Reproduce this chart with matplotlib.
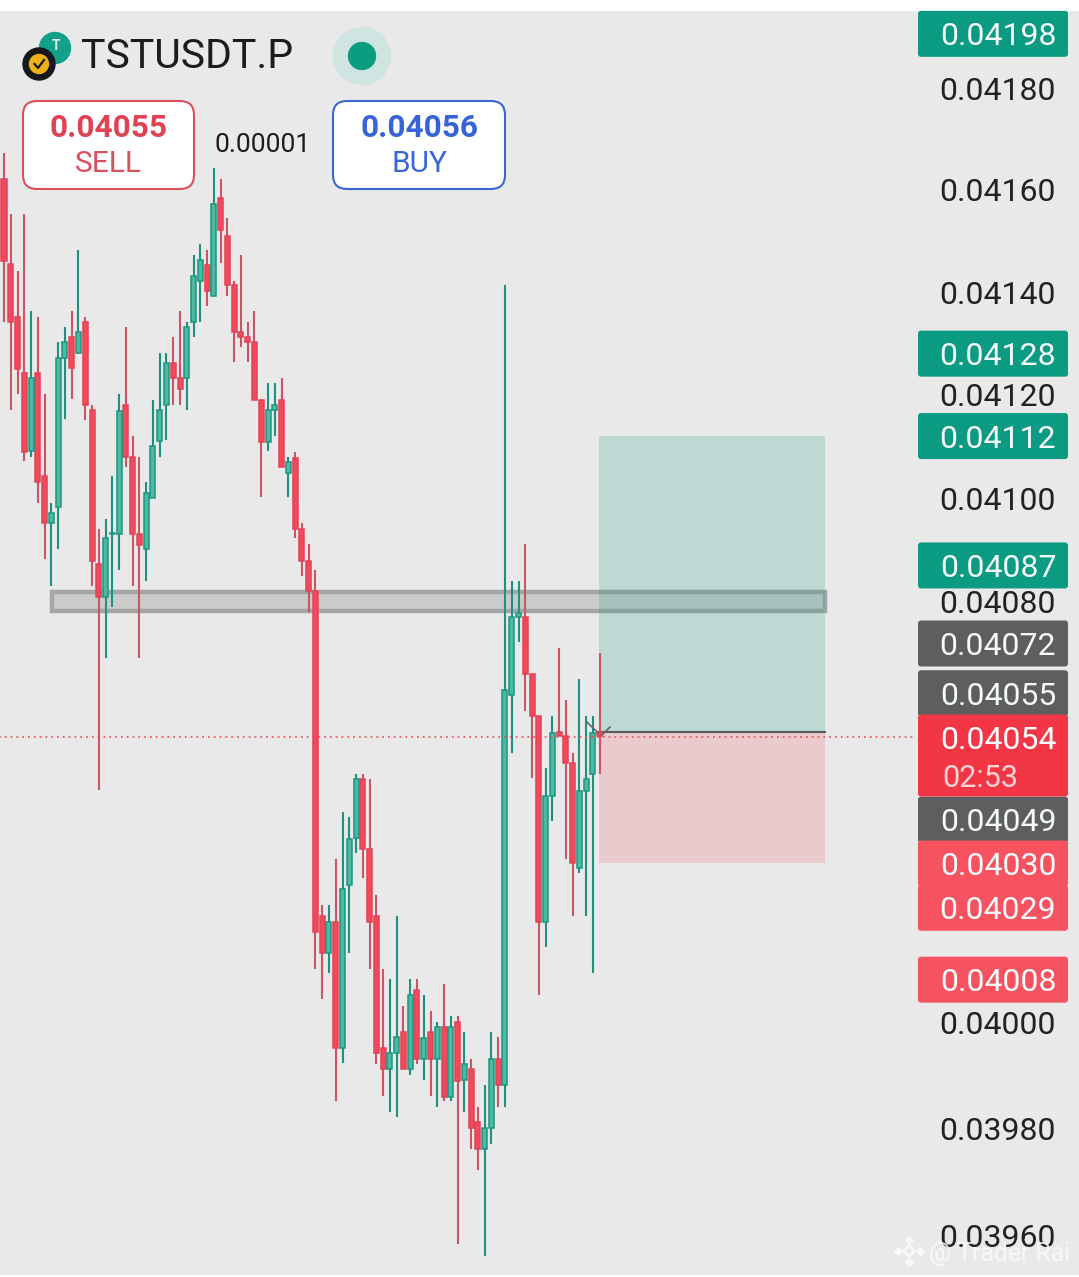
import matplotlib
matplotlib.use("Agg")
import numpy as np
import matplotlib.pyplot as plt
from matplotlib.patches import Rectangle, FancyBboxPatch, Circle
from matplotlib.ticker import NullFormatter, NullLocator

plt.rcParams["font.family"] = ["Roboto", "DejaVu Sans"]

# ---------------------------------------------------------------------------
# Data (prices in millionths of a USDT)
# ---------------------------------------------------------------------------

highs = [
    41673, 41553, 41442, 41553, 41364, 41352, 41201, 40991, 41303, 41332,
    41364, 41483, 41352, 41181, 40941, 40960, 41042, 41201, 41332, 41121,
    41080, 41032, 41190, 41281, 41281, 41313, 41364, 41342, 41473, 41493,
    41483, 41643, 41622, 41544, 41422, 41473, 41342, 41364, 41190, 41223,
    41223, 41232, 41080, 41090, 40951, 40912, 40862, 40221, 40221, 40309,
    40398, 40389, 40471, 40471, 40461, 40240, 40100, 40081, 40200, 40030,
    40081, 40081, 40051, 40021, 40000, 40072, 40011, 40011, 39981, 39931,
    39840, 39882, 39981, 39972, 41413, 40841, 40841, 40912, 40662, 40582,
    40481, 40582, 40712, 40611, 40511, 40651, 40582, 40582, 40701,
]
lows = [
    41342, 41171, 41201, 41071, 41080, 40991, 40883, 40831, 40902, 41154,
    41192, 41279, 41152, 40831, 40440, 40693, 40790, 40862, 41061, 40831,
    40693, 40841, 41001, 41080, 41113, 41181, 41181, 41171, 41313, 41342,
    41373, 41393, 41456, 41393, 41264, 41293, 41264, 41190, 41003, 41092,
    41121, 41061, 41003, 40922, 40850, 40781, 40100, 40043, 40092, 39852,
    39923, 40130, 40319, 40272, 40100, 39921, 39861, 39831, 39822, 39912,
    39900, 39921, 39891, 39861, 39840, 39852, 39852, 39583, 39831, 39761,
    39722, 39561, 39771, 39840, 39840, 40511, 40722, 40591, 40463, 40051,
    40141, 40381, 40542, 40309, 40200, 40281, 40200, 40092, 40471,
]
body_tops = [
    41622, 41454, 41352, 41242, 41232, 41242, 41042, 40972, 41272, 41303,
    41313, 41322, 41342, 41171, 40872, 40922, 40933, 41169, 41181, 41080,
    40931, 41009, 41101, 41171, 41262, 41262, 41232, 41332, 41432, 41463,
    41452, 41573, 41583, 41510, 41413, 41322, 41313, 41303, 41190, 41171,
    41181, 41190, 41069, 41078, 40941, 40879, 40821, 40200, 40189, 40189,
    40251, 40347, 40461, 40461, 40328, 40200, 39951, 39942, 39972, 39981,
    40051, 40060, 39970, 39981, 39991, 39991, 39991, 40000, 39921, 39912,
    39812, 39801, 39931, 39931, 40630, 40771, 40779, 40771, 40662, 40582,
    40429, 40549, 40551, 40542, 40492, 40438, 40461, 40549, 40551,
]
body_bottoms = [
    41461, 41342, 41250, 41090, 41092, 41032, 40951, 40951, 40982, 41272,
    41252, 41281, 41181, 40879, 40810, 40810, 40930, 40931, 41080, 40931,
    40910, 40901, 41001, 41111, 41181, 41232, 41211, 41232, 41342, 41422,
    41403, 41393, 41522, 41413, 41322, 41313, 41303, 41190, 41109, 41109,
    41171, 41061, 41049, 40941, 40879, 40821, 40170, 40130, 40130, 39951,
    39951, 40260, 40349, 40328, 40189, 39942, 39912, 39912, 39942, 39912,
    39912, 39931, 39931, 39931, 39931, 39859, 39859, 39889, 39891, 39801,
    39761, 39761, 39801, 39882, 39882, 40622, 40771, 40662, 40582, 40189,
    40189, 40429, 40542, 40492, 40300, 40291, 40438, 40471, 40542,
]
directions = (
    "rrrrgrrgggrgrrrgggrrrggggrrgggrg"
    "rrrrrrrggrgrrrrrgrgggrrrrggrgrgrgrgrgrrggrgggrrrggrrrgggr"
)

axis_prices = [0.04180, 0.04160, 0.04140, 0.04120, 0.04100, 0.04080, 0.04000, 0.03980, 0.03960]

# price tags on the axis: value, colour kind
tag_values = [0.04198, 0.04128, 0.04112, 0.04087, 0.04072, 0.04055, 0.04049, 0.04030, 0.04029, 0.04008]
tag_kinds = ["green", "green", "green", "green", "grey", "grey", "grey", "red", "red", "red"]
last_price = 0.04054
countdown = "02:53"

sell_price, buy_price, spread = "0.04055", "0.04056", "0.00001"
symbol = "TSTUSDT.P"

entry_price = 0.04055
target_price = 0.04112
stop_price = 0.04030
zone_top, zone_bottom = 0.040818, 0.040782

# ---------------------------------------------------------------------------
# Style
# ---------------------------------------------------------------------------

W, H = 1079, 1277
BG = "#e9e9e9"
UP_EDGE, UP_FILL, UP_WICK = "#1c9680", "#4cb9a2", "#1f9180"
DOWN_EDGE, DOWN_FILL, DOWN_WICK = "#e04458", "#f4485b", "#cc5564"
TAG_COLORS = {"green": "#0a9b82", "grey": "#5e5e5e", "red": "#f7525f"}
# tags pushed away from their true price so they do not overlap (pixels)
tag_nudge = {0.04198: 37, 0.04055: -39, 0.04049: 56, 0.04029: 39}

fig = plt.figure(figsize=(W / 100, H / 100), dpi=100, facecolor="white")
ax = fig.add_axes([0, 2 / H, 1, 1264 / H], facecolor=BG)
ax.set_yscale("log")
ax.set_ylim(0.039526, 0.041952)
spacing = 6.77
ax.set_xlim(-4 / spacing, (W - 4) / spacing)
for s in ax.spines.values():
    s.set_visible(False)

ax.xaxis.set_major_locator(NullLocator())
ax.yaxis.tick_right()
ax.yaxis.set_minor_locator(NullLocator())
ax.yaxis.set_minor_formatter(NullFormatter())
ax.set_yticks(axis_prices)
ax.set_yticklabels([f"{p:.5f}" for p in axis_prices], fontsize=23, color="#222222")
ax.tick_params(axis="y", length=0, pad=-100.5)

# ---------------------------------------------------------------------------
# Zone, position boxes
# ---------------------------------------------------------------------------

n = len(highs)
x = np.arange(n)
scale = 1e-6
box_left, box_right = 87.9, 121.3

ax.add_patch(Rectangle((7.1, zone_bottom), 114.1, zone_top - zone_bottom,
                       facecolor="#cbcbcb", edgecolor="#a6a6a6", linewidth=3.2, zorder=1))
ax.add_patch(Rectangle((box_left, entry_price), box_right - box_left, target_price - entry_price,
                       facecolor="#089981", alpha=0.2, edgecolor="none", zorder=2))
ax.add_patch(Rectangle((box_left, stop_price), box_right - box_left, entry_price - stop_price,
                       facecolor="#f7525f", alpha=0.2, edgecolor="none", zorder=2))
ax.plot([box_left, box_right], [entry_price, entry_price], color="#5a5a5a", lw=1.5, zorder=3)

# ---------------------------------------------------------------------------
# Candles
# ---------------------------------------------------------------------------

ups = np.array([d == "g" for d in directions])
highs_p, lows_p = np.array(highs) * scale, np.array(lows) * scale
tops_p, bottoms_p = np.array(body_tops) * scale, np.array(body_bottoms) * scale

ax.vlines(x[~ups], lows_p[~ups], highs_p[~ups], color=DOWN_WICK, lw=1.5, zorder=4)
ax.vlines(x[ups], lows_p[ups], highs_p[ups], color=UP_WICK, lw=1.5, zorder=4)
ax.bar(x[~ups], (tops_p - bottoms_p)[~ups], bottom=bottoms_p[~ups], width=0.74,
       facecolor=DOWN_FILL, edgecolor=DOWN_EDGE, linewidth=1.1, zorder=5)
ax.bar(x[ups], (tops_p - bottoms_p)[ups], bottom=bottoms_p[ups], width=0.74,
       facecolor=UP_FILL, edgecolor=UP_EDGE, linewidth=1.1, zorder=5)

ax.plot([-1, 134.5], [last_price, last_price], color="#ee4452", lw=1.1,
        linestyle=(0, (1.2, 2.6)), zorder=6)

# ---------------------------------------------------------------------------
# Overlay in pixel coordinates for the app chrome
# ---------------------------------------------------------------------------

ui = fig.add_axes([0, 0, 1, 1], facecolor="none")
ui.set_xlim(0, W)
ui.set_ylim(H, 0)
ui.axis("off")


def price_y(price):
    return H - ax.transData.transform((0, price))[1]


def tag(y0, y1, color):
    ui.add_patch(FancyBboxPatch((920, y0 + 2), 146, y1 - y0 - 4,
                                boxstyle="round,pad=2,rounding_size=3",
                                facecolor=color, edgecolor="none", zorder=3))


# little arrow on the last candle
ui.plot([587, 598], [722, 733], color="#666666", lw=1.2, zorder=2)
ui.plot([610, 602], [727, 735], color="#666666", lw=1.2, zorder=2)

for value, kind in zip(tag_values, tag_kinds):
    yc = price_y(value) + tag_nudge.get(value, 0)
    tag(yc - 23, yc + 23, TAG_COLORS[kind])
    ui.text(998, yc, f"{value:.5f}", color="#f4fbfa", fontsize=23,
            ha="center", va="center_baseline", zorder=4)

yl = price_y(last_price)
tag(yl - 23, yl + 59, "#f23645")
ui.text(998, yl, f"{last_price:.5f}", color="white", fontsize=23,
        ha="center", va="center_baseline", zorder=4)
ui.text(980, yl + 38, countdown, color="#fbd3d6", fontsize=22,
        ha="center", va="center_baseline", zorder=4)

# header
ui.add_patch(Circle((55, 48), 15.5, color="#12a089", zorder=5))
ui.add_patch(Circle((39, 64), 16, color="#16181c", zorder=6))
ui.add_patch(Circle((39, 64), 9.5, color="#efb016", zorder=7))
ui.plot([34.5, 38, 44], [64, 68, 60], color="#16181c", lw=1.6, zorder=8)
ui.text(56, 46, "T", color="#d7efe9", fontsize=10, fontweight="bold",
        ha="center", va="center", zorder=5)
ui.text(81, 53, symbol, color="#1a1c20", fontsize=29.5, ha="left", va="center_baseline", zorder=5)
ui.add_patch(Circle((362, 56), 28.5, color="#cfe5e1", zorder=5))
ui.add_patch(Circle((362, 56), 13.5, color="#0c9c80", zorder=6))


def quote_box(x0, x1, color, text_color, price, label):
    ui.add_patch(FancyBboxPatch((x0 + 14, 115), x1 - x0 - 28, 60,
                                boxstyle="round,pad=14,rounding_size=14",
                                facecolor="white", edgecolor=color, linewidth=1.5, zorder=5))
    xc = (x0 + x1) / 2
    ui.text(xc, 125, price, color=text_color, fontsize=22.8, fontweight="bold",
            ha="center", va="center_baseline", zorder=6)
    ui.text(xc, 161, label, color=color, fontsize=21.5, ha="center", va="center_baseline", zorder=6)


quote_box(23, 194, "#d9505f", "#df4252", sell_price, "SELL")
quote_box(333, 505, "#3b66d6", "#3763d8", buy_price, "BUY")
ui.text(263, 143, spread, color="#1c1c1c", fontsize=19, ha="center", va="center_baseline", zorder=6)

# watermark
logo_x, logo_y = 909, 1251
ui.scatter([logo_x], [logo_y], marker="D", s=30, facecolor="none", edgecolor="#f8f8f8",
           linewidth=2, zorder=7)
ui.scatter([logo_x - 11, logo_x + 11, logo_x, logo_x], [logo_y, logo_y, logo_y - 11, logo_y + 11],
           marker="D", s=16, color="#f8f8f8", zorder=7)
ui.text(929, 1251, "@ Trader Rai", color="#fafafa", alpha=0.85, fontsize=17.8,
        ha="left", va="center_baseline", zorder=7)

fig.savefig("out.png", dpi=100, facecolor="white")
plt.close(fig)
